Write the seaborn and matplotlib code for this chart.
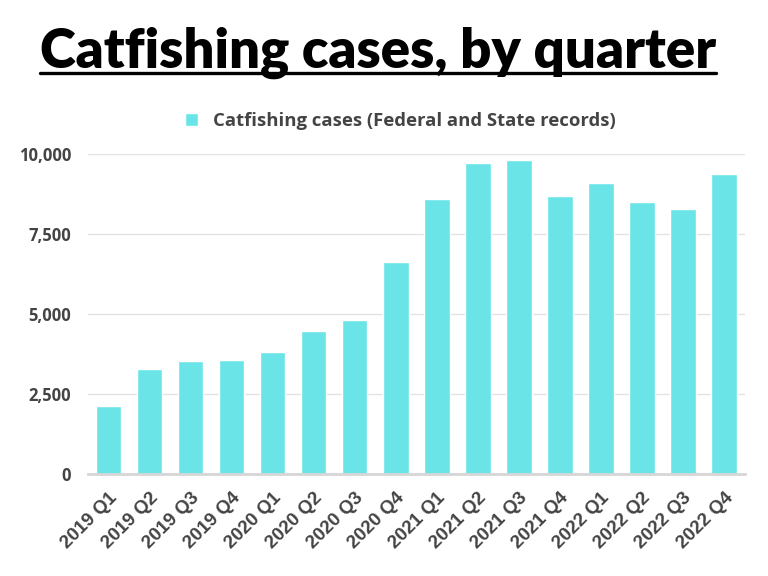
import numpy as np
import pandas as pd
import matplotlib
matplotlib.use("Agg")
import matplotlib.pyplot as plt
import seaborn as sns
from matplotlib.lines import Line2D
from matplotlib.ticker import FuncFormatter

# quarters and catfishing case counts
quarters = ["2019 Q1", "2019 Q2", "2019 Q3", "2019 Q4",
            "2020 Q1", "2020 Q2", "2020 Q3", "2020 Q4",
            "2021 Q1", "2021 Q2", "2021 Q3", "2021 Q4",
            "2022 Q1", "2022 Q2", "2022 Q3", "2022 Q4"]
cases = [2140, 3290, 3540, 3560,
         3800, 4470, 4810, 6630,
         8590, 9720, 9800, 8670,
         9090, 8480, 8290, 9380]
y_ticks = [0, 2500, 5000, 7500, 10000]
series_name = "Catfishing cases (Federal and State records)"

bar_color = "#6be4e8"
text_color = "#444444"

sns.set_style("white")

df = pd.DataFrame({"quarter": quarters, "cases": cases})

fig = plt.figure(figsize=(7.68, 5.76), dpi=100)
ax = fig.add_axes([0.1146, 0.177, 0.855, 0.556])

sns.barplot(data=df, x="quarter", y="cases", color=bar_color, width=0.62,
            label=series_name, ax=ax, saturation=1)

ax.set_ylim(0, 10000)
ax.set_xlim(-0.5, len(quarters) - 0.5)
ax.set_yticks(y_ticks)
ax.yaxis.set_major_formatter(FuncFormatter(lambda v, p: f"{int(v):,}"))
ax.grid(axis="y", color="#e3e3e3", linewidth=1)
ax.set_axisbelow(True)
for s in ["top", "right", "left"]:
    ax.spines[s].set_visible(False)
ax.spines["bottom"].set_color("#d6d6d6")
ax.spines["bottom"].set_linewidth(2)
ax.tick_params(axis="both", length=0)
ax.tick_params(axis="y", pad=12)
ax.tick_params(axis="x", pad=11)
ax.set_xlabel("")
ax.set_ylabel("")

for lab in ax.get_yticklabels():
    lab.set_fontfamily("Open Sans")
    lab.set_fontweight("bold")
    lab.set_fontsize(12)
    lab.set_color(text_color)
ax.set_xticks(range(len(quarters)))
ax.set_xticklabels(quarters, rotation=45, ha="right", rotation_mode="anchor",
                   fontfamily="Liberation Sans", fontweight="bold",
                   fontsize=13.5, color=text_color)

leg = ax.legend(loc="center", bbox_to_anchor=(0.521, 0.79),
                bbox_transform=fig.transFigure, frameon=False,
                handlelength=0.7, handleheight=0.7, handletextpad=0.8,
                prop={"family": "Open Sans", "weight": "bold", "size": 13.3})
for t in leg.get_texts():
    t.set_color(text_color)

# title, narrow bold face, sized to the reference width
title = fig.text(40 / 768, 1 - 68 / 576, "Catfishing cases, by quarter",
                 ha="left", va="baseline",
                 fontfamily="Lato", fontweight="heavy", fontsize=40, color="black")
fig.canvas.draw()
w = title.get_window_extent().width
title.set_fontsize(40 * 676 / w)
fig.add_artist(Line2D([40 / 768, 716 / 768], [1 - 72.5 / 576] * 2, color="black",
                      linewidth=2.4, transform=fig.transFigure))

fig.savefig("out.png", dpi=100)
